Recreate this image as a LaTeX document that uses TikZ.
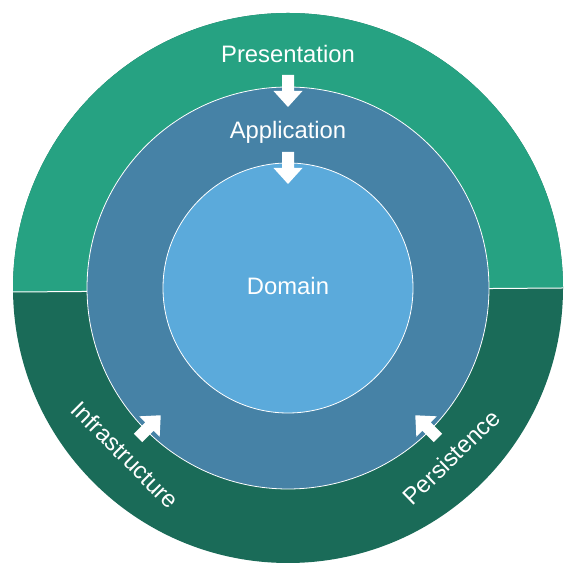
\documentclass[tikz,border=0pt]{standalone}
\usepackage{fontspec}
\setmainfont{Liberation Sans}
\usetikzlibrary{calc}
\definecolor{topgreen}{RGB}{38,162,130}
\definecolor{botgreen}{RGB}{26,107,88}
\definecolor{midblue}{RGB}{70,130,166}
\definecolor{innerblue}{RGB}{91,170,219}
\tikzset{
  lbl/.style={text=white, font=\fontsize{23.8bp}{28bp}\selectfont, inner sep=0pt},
  ring/.style={draw=white, line width=0.8bp},
  blockarrow/.pic={\fill[white] (0,-6) -- (16,-6) -- (16,-14.5) -- (32,0) -- (16,14.5) -- (16,6) -- (0,6) -- cycle;}
}
\begin{document}
\begin{tikzpicture}[x=1bp,y=1bp]
\useasboundingbox (0,0) rectangle (576,576);
\coordinate (c) at (288,288);
% outer circle
\fill[botgreen] (c) circle[radius=275];
\begin{scope}
  \clip (c) circle[radius=275];
  \fill[topgreen] (0,283.9) -- (576,288.1) -- (576,576) -- (0,576) -- cycle;
  \draw[white, line width=1bp] (0,283.9) -- (576,288.1);
\end{scope}
% middle and inner circles
\filldraw[ring, fill=midblue] (c) circle[radius=201];
\filldraw[ring, fill=innerblue] (c) circle[radius=125];
% labels
\node[lbl, anchor=base] (pres) at (288,513.5) {Presentation};
\node[lbl, anchor=base] (app) at (288,437.5) {Application};
\node[lbl, anchor=base] (dom) at (288,281.5) {Domain};
\node[lbl, rotate=-45] (infra) at ($(c)+(225.7:233)$) {Infrastructure};
\node[lbl, rotate=44] (pers) at ($(c)+(-46:235)$) {Persistence};
% block arrows
\pic[rotate=-90] at ($(c)+(90:213)$) {blockarrow};
\pic[rotate=-90] at ($(c)+(90:136)$) {blockarrow};
\pic[rotate=45] at ($(c)+(225:212)$) {blockarrow};
\pic[rotate=135] at ($(c)+(315:212)$) {blockarrow};
\end{tikzpicture}
\end{document}
